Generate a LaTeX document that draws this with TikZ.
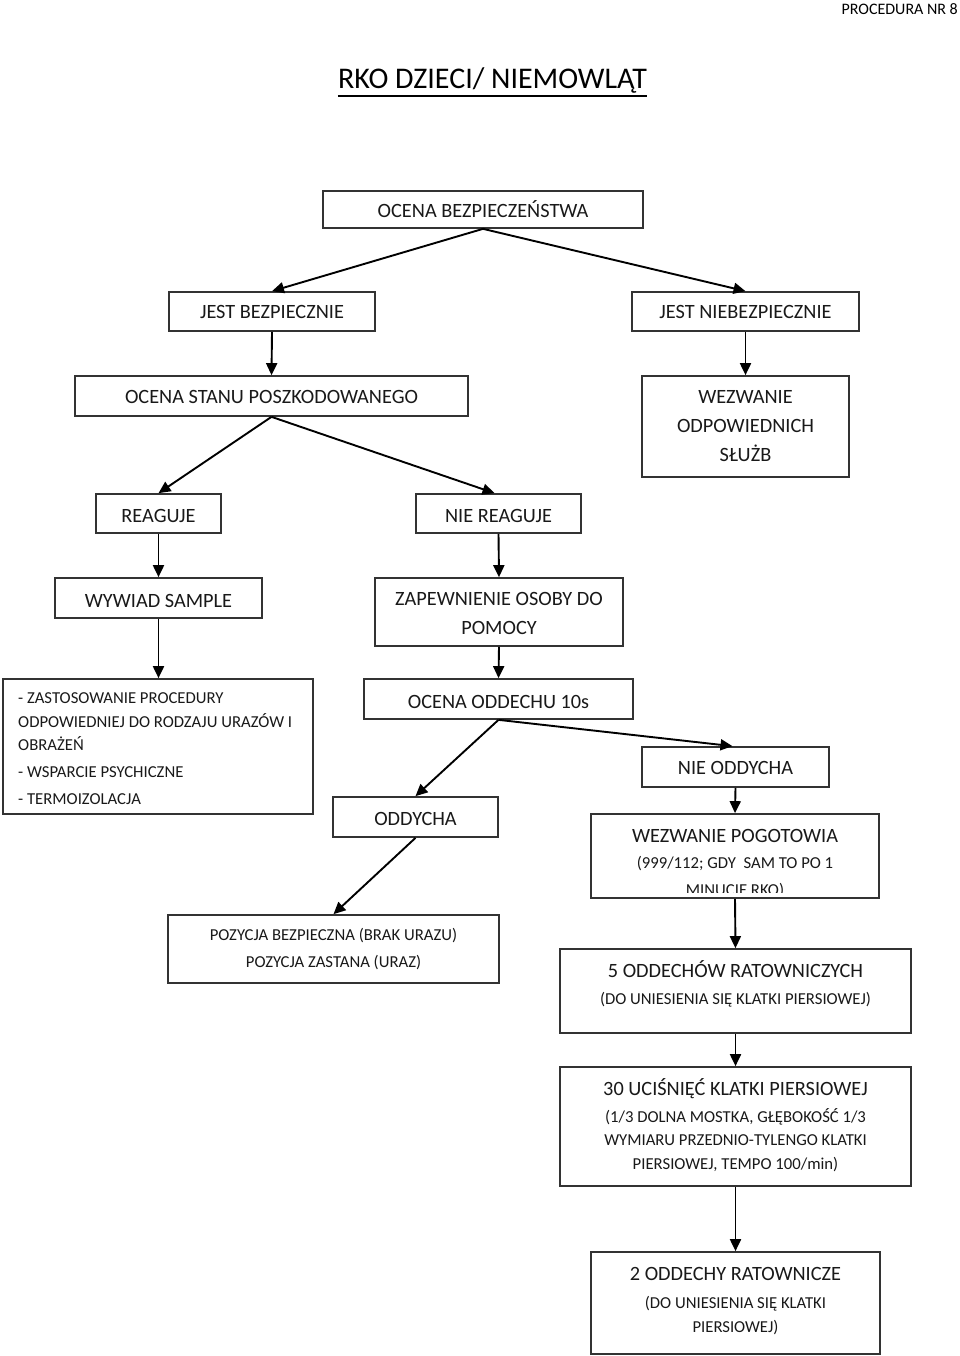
\documentclass[tikz,border=0pt]{standalone}
\usepackage{fontspec}
\setmainfont{Carlito}
\usetikzlibrary{arrows.meta}
\begin{document}
\begin{tikzpicture}[x=1pt,y=-1pt,
  box/.style={draw=black!80, line width=1.7pt, rectangle, inner sep=0pt},
  big/.style={font=\fontsize{20.3}{24}\selectfont, inner sep=0pt, anchor=base, text=black!90},
  small/.style={font=\fontsize{16.7}{20}\selectfont, inner sep=0pt, anchor=base, text=black!90},
  lefttxt/.style={small, anchor=base west},
  arr/.style={line width=1.9pt, draw=black, -{Triangle[length=12pt,width=11pt]}}]
\useasboundingbox (0,0) rectangle (960,1356);
\fill[white] (0,0) rectangle (960,1356);

% header and title
\node[font=\fontsize{16}{19}\selectfont, inner sep=0pt, anchor=base east] (hdr) at (958,15) {PROCEDURA NR 8};
\node[font=\fontsize{30}{36}\selectfont, inner sep=0pt, anchor=base] (title) at (492.5,89) {RKO DZIECI/ NIEMOWLĄT};
\draw[line width=1.7pt] ([yshift=-7pt]title.base west) -- ([yshift=-7pt]title.base east);

% boxes
\node[box, minimum width=320pt, minimum height=37pt] (b1) at (483,209.5) {};
\node[big] (t1) at (483,218) {OCENA BEZPIECZEŃSTWA};

\node[box, minimum width=206pt, minimum height=39pt] (b2) at (272,311.5) {};
\node[big] (t2) at (272,318) {JEST BEZPIECZNIE};

\node[box, minimum width=227pt, minimum height=39pt] (b3) at (745.5,311.5) {};
\node[big] (t3) at (745.5,318) {JEST NIEBEZPIECZNIE};

\node[box, minimum width=393pt, minimum height=40pt] (b4) at (271.5,396) {};
\node[big] (t4) at (271.5,403) {OCENA STANU POSZKODOWANEGO};

\node[box, minimum width=207pt, minimum height=101pt] (b5) at (745.5,426.5) {};
\node[big] (t5a) at (745.5,403) {WEZWANIE};
\node[big] (t5b) at (745.5,432) {ODPOWIEDNICH};
\node[big] (t5c) at (745.5,461) {SŁUŻB};

\node[box, minimum width=125pt, minimum height=39pt] (b6) at (158.5,513.5) {};
\node[big] (t6) at (158.5,522) {REAGUJE};

\node[box, minimum width=165pt, minimum height=39pt] (b7) at (498.5,513.5) {};
\node[big] (t7) at (498.5,522) {NIE REAGUJE};

\node[box, minimum width=207pt, minimum height=40pt] (b8) at (158.5,598) {};
\node[big] (t8) at (158.5,607) {WYWIAD SAMPLE};

\node[box, minimum width=248pt, minimum height=68pt] (b9) at (499,612) {};
\node[big] (t9a) at (499,605) {ZAPEWNIENIE OSOBY DO};
\node[big] (t9b) at (499,634) {POMOCY};

\node[box, minimum width=310pt, minimum height=135pt] (b10) at (158,746.5) {};
\node[lefttxt] (t10a) at (18,703) {- ZASTOSOWANIE PROCEDURY};
\node[lefttxt] (t10b) at (18,727) {ODPOWIEDNIEJ DO RODZAJU URAZÓW I};
\node[lefttxt] (t10c) at (18,750) {OBRAŻEŃ};
\node[lefttxt] (t10d) at (18,777) {- WSPARCIE PSYCHICZNE};
\node[lefttxt] (t10e) at (18,804) {- TERMOIZOLACJA};

\node[box, minimum width=269pt, minimum height=40pt] (b11) at (498.5,699) {};
\node[big] (t11) at (498.5,708) {OCENA ODDECHU 10s};

\node[box, minimum width=187pt, minimum height=40pt] (b12) at (735.5,767) {};
\node[big] (t12) at (735.5,774) {NIE ODDYCHA};

\node[box, minimum width=165pt, minimum height=40pt] (b13) at (415.5,817) {};
\node[big] (t13) at (415.5,825) {ODDYCHA};

\node[box, minimum width=288pt, minimum height=84pt] (b14) at (735,856) {};
\node[big] (t14a) at (735,842) {WEZWANIE POGOTOWIA};
\node[small] (t14b) at (735,868) {(999/112; GDY\ \ SAM TO PO 1};
\begin{scope}
  \clip (591,814) rectangle (879,892);
  \node[small] (t14c) at (735,895) {MINUCIE RKO)};
\end{scope}

\node[box, minimum width=331pt, minimum height=68pt] (b15) at (333.5,949) {};
\node[small] (t15a) at (333.5,940) {POZYCJA BEZPIECZNA (BRAK URAZU)};
\node[small] (t15b) at (333.5,967) {POZYCJA ZASTANA (URAZ)};

\node[box, minimum width=351pt, minimum height=84pt] (b16) at (735.5,991) {};
\node[big] (t16a) at (735.5,977) {5 ODDECHÓW RATOWNICZYCH};
\node[small] (t16b) at (735.5,1004) {(DO UNIESIENIA SIĘ KLATKI PIERSIOWEJ)};

\node[box, minimum width=351pt, minimum height=119pt] (b17) at (735.5,1126.5) {};
\node[big] (t17a) at (735.5,1095) {30 UCIŚNIĘĆ KLATKI PIERSIOWEJ};
\node[small] (t17b) at (735.5,1122) {(1/3 DOLNA MOSTKA, GŁĘBOKOŚĆ 1/3};
\node[small] (t17c) at (735.5,1145) {WYMIARU PRZEDNIO-TYLENGO KLATKI};
\node[small] (t17d) at (735.5,1169) {PIERSIOWEJ, TEMPO 100/min)};

\node[box, minimum width=289pt, minimum height=102pt] (b18) at (735.5,1303) {};
\node[big] (t18a) at (735.5,1280) {2 ODDECHY RATOWNICZE};
\node[small] (t18b) at (735.5,1308) {(DO UNIESIENIA SIĘ KLATKI};
\node[small] (t18c) at (735.5,1332) {PIERSIOWEJ)};

% connectors
\draw[arr] (b1.south) -- (b2.north);
\draw[arr] (b1.south) -- (b3.north);
\draw[arr] (b2.south) -- (b4.north);
\draw[arr] (b3.south) -- (b5.north);
\draw[arr] (b4.south) -- (b6.north);
\draw[arr] (b4.south) -- ([xshift=-4pt]b7.north);
\draw[arr] (b6.south) -- (b8.north);
\draw[arr] (b8.south) -- (b10.north -| b8.south);
\draw[arr] (b7.south) -- (b9.north);
\draw[arr] (b9.south) -- (b11.north);
\draw[arr] (b11.south) -- (b13.north);
\draw[arr] (b11.south) -- ([xshift=-3pt]b12.north);
\draw[arr] (b13.south) -- (b15.north);
\draw[arr] (b12.south) -- (b14.north);
\draw[arr] (b14.south) -- (b16.north);
\draw[arr] (b16.south) -- (b17.north);
\draw[arr] (b17.south) -- (b18.north);
\end{tikzpicture}
\end{document}
